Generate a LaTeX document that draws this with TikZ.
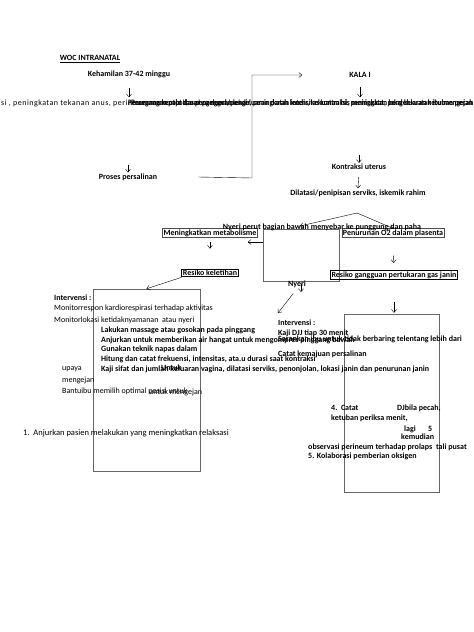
\documentclass[tikz,border=0pt]{standalone}
\usepackage{fontspec}
\setmainfont{Carlito}
\usetikzlibrary{arrows.meta}

\newcommand\huruf{\fontsize{8pt}{9.6pt}\selectfont}

\tikzset{
  arr/.style={-{Straight Barb[length=3pt,width=5pt]}, thin},
  teks/.style={font=\huruf, inner sep=1pt, anchor=west},
  tebal/.style={font=\huruf\bfseries, inner sep=1pt},
  kotak/.style={draw=black!70, thin, inner sep=1pt, font=\huruf\bfseries},
  resiko/.style={draw=black, line width=1pt, inner sep=1pt, font=\huruf\bfseries},
  kotakbesar/.style={draw=black!60, thin, minimum width=#1, inner sep=0pt},
}

\begin{document}
\begin{tikzpicture}[x=1pt, y=-1pt]
\useasboundingbox[fill=white] (0,0) rectangle (474,632);

% Judul
\node[tebal] (judul) at (90,59) {\underline{WOC INTRANATAL}};

% Alur atas
\node[tebal] (kehamilan) at (129,74) {Kehamilan 37-42 minggu};
\node[tebal] (kala) at (360,75) {KALA I};
\node[teks] (baris) at (0,103) {\addfontfeature{LetterSpace=6}si , peningkatan tekanan anus, perineum menonjol, vulva membuka};
\node[teks, font=\huruf\bfseries] (baris2) at (127,103) {\resizebox{344pt}{5.8pt}{Penurunan kepala dan pengeluaran lendir, peningkatan intensitas kontraksi, peningkatan lokal kekuatan ibu mengejan}};
\node[teks, font=\huruf\bfseries] (baris3) at (130,103.5) {\resizebox{342pt}{5.8pt}{Peregangan otot dasar panggul, pengeluaran darah lendir, kekuatan his meningkat, pengeluaran ketuban pecah}};
\node[tebal] (proses) at (128,177) {Proses persalinan};
\node[tebal] (kontraksi) at (359,167) {Kontraksi uterus};
\node[tebal] (dilatasi) at (358,193) {Dilatasi/penipisan serviks, iskemik rahim};

\draw[arr, shorten <=9pt, shorten >=1pt] (kehamilan.south) -- (kehamilan.south |- baris.north);
\draw[arr, shorten <=8pt, shorten >=1pt] (kala.south) -- (kala.south |- baris.north);
\draw[arr, shorten <=57pt] (baris.south -| proses.north) -- (proses.north);
\draw[arr, shorten <=47pt] (baris.south -| kontraksi.north) -- (kontraksi.north);
\draw[arr, shorten <=6pt] (kontraksi.south) -- (dilatasi.north);

% Garis dari proses persalinan ke kala I
\coordinate (belok) at (252,178);
\draw[arr, shorten >=46pt] ([xshift=40pt]proses.east) -- (belok) |- (kala.west);

% Percabangan
\coordinate (cabang) at (357,213);
\coordinate (ujungkiri) at (300,226);
\node[kotakbesar=76pt, minimum height=52pt] (tengah) at (301,255) {};
\node[kotak] (metabolisme) at (210,233) {Meningkatkan metabolisme};
\node[kotak] (penurunan) at (393,233) {Penurunan O2 dalam plasenta};
\node[tebal] (nyeriperut) at (322,227) {Nyeri perut bagian bawah menyebar ke punggung dan paha};
\draw[arr] (cabang) -- (ujungkiri);
\draw[arr] (cabang) -- (penurunan.north);
\draw[arr] ([yshift=13pt]tengah.west) -- ([yshift=13pt, xshift=-15pt]tengah.west);

% Resiko
\node[resiko] (keletihan) at (210,273) {Resiko keletihan};
\node[resiko] (gasjanin) at (394,275) {Resiko gangguan pertukaran gas janin};
\node[tebal] (nyeri) at (297,284) {Nyeri};
\draw[arr, shorten <=4pt, shorten >=20pt] (metabolisme.south) -- (metabolisme.south |- keletihan.north);
\draw[arr, shorten <=18pt, shorten >=7pt] (penurunan.south) -- (gasjanin.north);
\draw[arr] ([xshift=4pt]nyeri.center) -- ([xshift=4pt, yshift=-8pt]nyeri.center);

% Kotak intervensi
\node[kotakbesar=107pt, minimum height=182pt] (boxkiri) at (146.5,380) {};
\node[kotakbesar=95pt, minimum height=178pt] (boxkanan) at (391.5,403) {};
\draw[arr] (keletihan.south west) -- (boxkiri.north);
\draw[arr, shorten <=22pt, shorten >=1pt] (gasjanin.south) -- (gasjanin.south |- boxkanan.north);
\coordinate (ujungnyeri) at (278,313);
\draw[arr, shorten <=6pt] (nyeri.south) -- (ujungnyeri);

% Intervensi kiri
\node[teks, font=\huruf\bfseries] (intervkiri) at (53,298) {Intervensi :};
\node[teks] (monitor1) at (53,308) {Monitorrespon kardiorespirasi terhadap aktivitas};
\node[teks] (monitor2) at (53,320) {Monitorlokasi};
\node[teks] (nyaman) at (100,320) {ketidaknyamanan\ \ atau nyeri};
\node[teks, font=\huruf\bfseries] (lakukan) at (100,330) {Lakukan massage atau gosokan pada pinggang};
\node[teks, font=\huruf\bfseries] (anjurkan) at (100,340) {Anjurkan untuk memberikan air hangat untuk mengompres pinggang bawah};
\node[teks, font=\huruf\bfseries] (gunakan) at (100,349) {Gunakan teknik napas dalam};
\node[teks, font=\huruf\bfseries] (hitung) at (100,359) {Hitung dan catat frekuensi, intensitas, ata.u durasi saat kontraksi};
\node[teks] (upaya) at (61,369) {upaya};
\node[teks, font=\huruf\bfseries] (kaji) at (100,369) {Kaji sifat dan jumlah keluaran vagina, dilatasi serviks, penonjolan, lokasi janin dan penurunan janin};
\node[teks, font=\huruf\bfseries] (untuk) at (160,368) {Untuk};
\node[teks] (mengejan) at (61,380) {mengejan};
\node[teks] (bantu) at (61,391) {Bantuibu memilih optimal posisi untuk};
\node[teks] (bantu2) at (148,392) {untuk mengejan};
\node[teks, font=\fontsize{8.5pt}{10pt}\selectfont] (relaksasi) at (22,433) {1.\ \ Anjurkan pasien melakukan yang meningkatkan relaksasi};

% Intervensi kanan
\node[teks, font=\huruf\bfseries] (intervkanan) at (277,323) {Intervensi :};
\node[teks, font=\huruf\bfseries] (djj) at (277,333) {Kaji DJJ tiap 30 menit};
\node[teks, font=\huruf\bfseries] (sarankan) at (277,339) {Sarankan ibu untuk tidak berbaring telentang lebih dari};
\node[teks, font=\huruf\bfseries] (catat) at (277,354) {Catat kemajuan persalinan};
\node[teks, font=\huruf\bfseries] (catat4) at (330,408) {4.\ \ Catat};
\node[teks, font=\huruf\bfseries] (djbila) at (396,408) {DJbila pecah,};
\node[teks, font=\huruf\bfseries] (ketuban) at (330,418) {ketuban periksa menit,};
\node[teks, font=\huruf\bfseries] (lagi) at (403,429) {lagi};
\node[teks, font=\huruf\bfseries] (lima) at (427,429) {5};
\node[teks, font=\huruf\bfseries] (kemudian) at (400,437) {kemudian};
\node[teks, font=\huruf\bfseries] (observasi) at (307,447) {observasi perineum terhadap prolaps\ \ tali pusat};
\node[teks, font=\huruf\bfseries] (kolaborasi) at (307,456) {5. Kolaborasi pemberian oksigen};

\end{tikzpicture}
\end{document}
